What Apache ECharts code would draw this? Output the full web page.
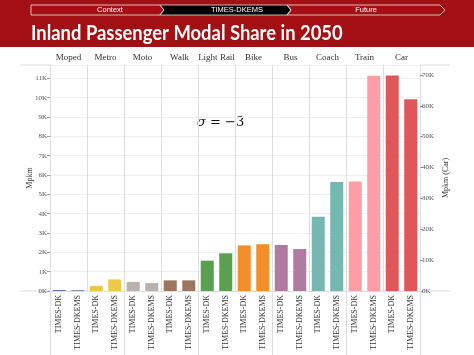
<!DOCTYPE html>
<html><head><meta charset="utf-8">
<script src="https://cdn.jsdelivr.net/npm/echarts@6/dist/echarts.min.js"></script>
<style>html,body{margin:0;padding:0;background:#fff}#c{width:474px;height:355px}</style>
</head><body><div id="c"></div>
<script>
const modes = ['Moped','Metro','Moto','Walk','Light Rail','Bike','Bus','Coach','Train','Car'];
const scenarios = ['TIMES-DK','TIMES-DKEMS'];
const timesDK    = [50, 270, 470, 550, 1570, 2360, 2380, 3840, 5670, 69800];
const timesDKEMS = [40, 600, 410, 550, 1950, 2420, 2170, 5640, 11140, 62100];
const modeColors = ['#4e79a7','#edc948','#bab0ac','#9c755f','#59a14f','#f28e2b','#b07aa1','#76b7b2','#ff9da7','#e15759'];
const rightAxisMode = 'Car';
const navLabels = ['Context','TIMES-DKEMS','Future'];
const titleText = 'Inland Passenger Modal Share in 2050';

const pairCats = [];
const leftData = [], rightData = [];
modes.forEach((m, i) => {
  [timesDK[i], timesDKEMS[i]].forEach((v, j) => {
    pairCats.push(scenarios[j]);
    if (m === rightAxisMode) { leftData.push('-'); rightData.push(v); }
    else { leftData.push(v); rightData.push('-'); }
  });
});
const colorFn = p => modeColors[Math.floor(p.dataIndex / 2)];
const serif = 'Liberation Serif';
const grey = '#555';
const lineC = '#dedede';

const chart = echarts.init(document.getElementById('c'), null, {renderer: 'canvas'});
const G = {left: 50, right: 54, top: 65, bottom: 64};
chart.setOption({
  animation: false,
  grid: {left: G.left, right: G.right, top: G.top, bottom: G.bottom, containLabel: false},
  xAxis: [
    {type: 'category', data: pairCats, position: 'bottom',
     axisLine: {show: true, lineStyle: {color: lineC}}, axisTick: {show: false},
     axisLabel: {rotate: 90, interval: 0, fontFamily: serif, fontSize: 8, color: '#333', margin: 4}},
    {type: 'category', data: modes, position: 'top',
     axisLine: {show: true, lineStyle: {color: lineC}},
     axisTick: {show: true, length: 15, lineStyle: {color: lineC}},
     axisLabel: {interval: 0, fontFamily: serif, fontSize: 9, color: '#333', margin: 3},
     splitLine: {show: true, lineStyle: {color: lineC}}},
    {type: 'category', data: modes, position: 'bottom',
     axisLine: {show: false},
     axisTick: {show: true, length: 64, lineStyle: {color: lineC}},
     axisLabel: {show: false}}
  ],
  yAxis: [
    {type: 'value', min: 0, max: 11690, interval: 1000, position: 'left',
     name: 'Mpkm', nameLocation: 'middle', nameGap: 16, nameRotate: 90, nameMoveOverlap: false,
     nameTextStyle: {fontFamily: serif, fontSize: 8, color: '#333'},
     axisLine: {show: true, lineStyle: {color: lineC}},
     axisTick: {show: true, length: 3, lineStyle: {color: '#999'}},
     axisLabel: {showMaxLabel: false, fontFamily: serif, fontSize: 7, color: grey, margin: 3,
       formatter: v => (v/1000) + 'K'},
     splitLine: {show: true, lineStyle: {color: '#f0f0f0'}}},
    {type: 'value', min: 0, max: 73200, interval: 10000, position: 'right',
     name: 'Mpkm (Car)', nameLocation: 'middle', nameGap: 22, nameRotate: 90, nameMoveOverlap: false,
     nameTextStyle: {fontFamily: serif, fontSize: 8, color: '#333'},
     axisLine: {show: false},
     axisTick: {show: true, length: 3, lineStyle: {color: '#999'}},
     axisLabel: {showMaxLabel: false, fontFamily: serif, fontSize: 7, color: grey, margin: 2,
       formatter: v => (v/1000) + 'K'},
     splitLine: {show: false}}
  ],
  series: [
    {type: 'bar', xAxisIndex: 0, yAxisIndex: 0, data: leftData, barWidth: 13, barGap: '-100%',
     itemStyle: {color: colorFn}},
    {type: 'bar', xAxisIndex: 0, yAxisIndex: 1, data: rightData, barWidth: 13, barGap: '-100%',
     itemStyle: {color: colorFn}}
  ],
  graphic: [
    {type: 'rect', shape: {x: 0, y: 0, width: 474, height: 47}, style: {fill: '#a30f12'}, z: 0},
    {type: 'polygon', shape: {points: [[31,5],[160,5],[164,10],[160,15],[31,15]]},
     style: {fill: 'none', stroke: '#e8e8e8', lineWidth: 0.8}},
    {type: 'polygon', shape: {points: [[160,5],[287,5],[291,10],[287,15],[160,15],[164,10]]},
     style: {fill: '#000', stroke: '#e8e8e8', lineWidth: 0.8}},
    {type: 'polygon', shape: {points: [[287,5],[440,5],[445,10],[440,15],[287,15],[291,10]]},
     style: {fill: 'none', stroke: '#e8e8e8', lineWidth: 0.8}},
    {type: 'text', x: 110, y: 10, style: {text: navLabels[0], fill: '#fff', font: '7.5px Liberation Sans', align: 'center', verticalAlign: 'middle'}},
    {type: 'text', x: 237, y: 10, style: {text: navLabels[1], fill: '#fff', font: '7.5px Liberation Sans', align: 'center', verticalAlign: 'middle'}},
    {type: 'text', x: 366, y: 10, style: {text: navLabels[2], fill: '#fff', font: '7.5px Liberation Sans', align: 'center', verticalAlign: 'middle'}},
    {type: 'text', x: 31, y: 34, scaleX: 0.92, style: {text: titleText, fill: '#fff', fontFamily: 'Lato', fontWeight: 'bold', fontSize: 20, verticalAlign: 'middle'}},
    {type: 'text', x: 197, y: 123, style: {
      text: '{s|\u03C3}{r| = \u22123}', verticalAlign: 'middle',
      rich: {s: {fontFamily: 'DejaVu Serif', fontStyle: 'italic', fontSize: 13, fill: '#111'}, r: {fontFamily: 'DejaVu Serif', fontSize: 13, fill: '#111'}}}},
    {type: 'line', shape: {x1: 20, y1: 65, x2: 50, y2: 65}, style: {stroke: lineC}},
    {type: 'line', shape: {x1: 420, y1: 65, x2: 450, y2: 65}, style: {stroke: lineC}},
    {type: 'line', shape: {x1: 20, y1: 291, x2: 50, y2: 291}, style: {stroke: lineC}},
    {type: 'line', shape: {x1: 420, y1: 291, x2: 450, y2: 291}, style: {stroke: lineC}}
  ]
});
</script></body></html>
